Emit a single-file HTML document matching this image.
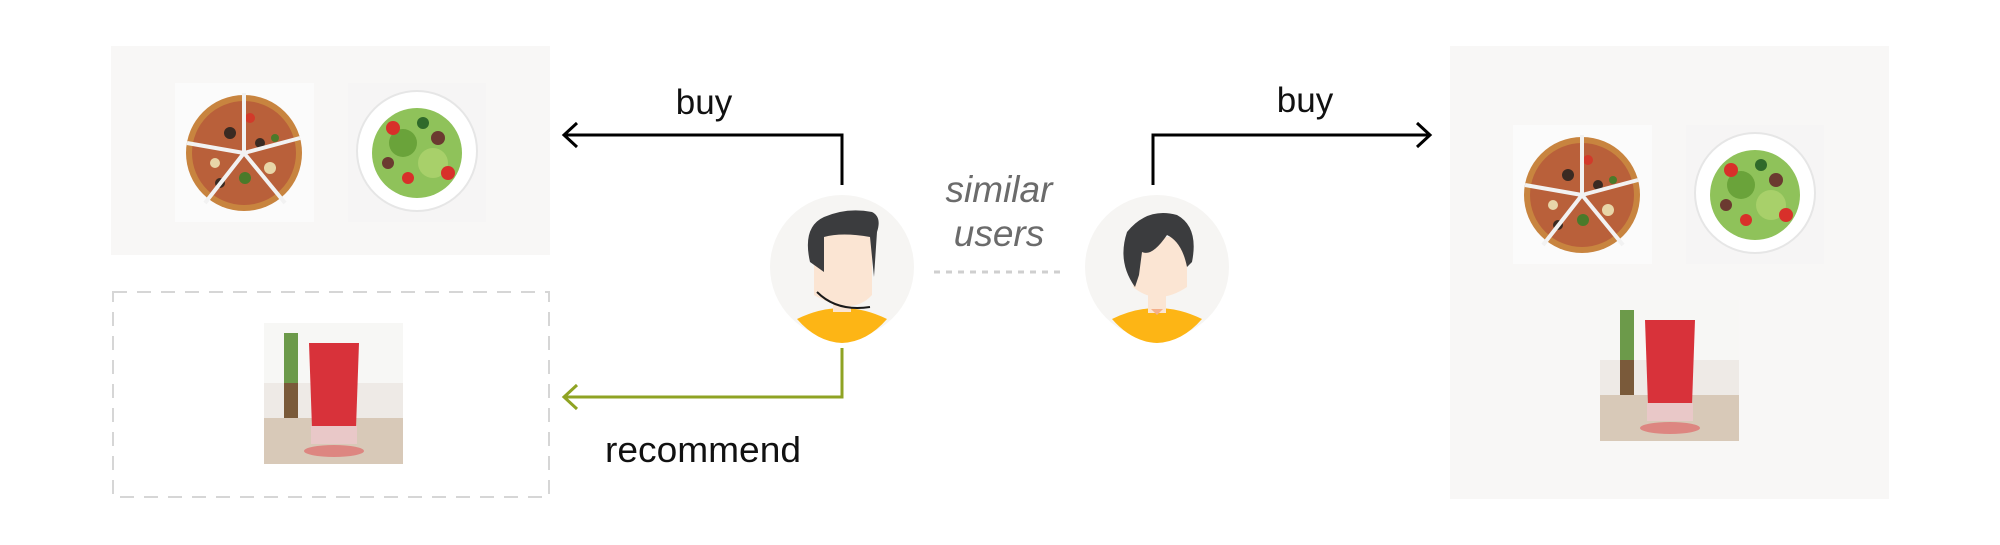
<!DOCTYPE html>
<html><head><meta charset="utf-8"><style>
html,body{margin:0;padding:0;background:#fff;}
svg{display:block;}
text{font-family:"Liberation Sans",sans-serif;}
</style></head><body>
<svg width="2000" height="545" viewBox="0 0 2000 545" xmlns="http://www.w3.org/2000/svg">
<defs>
<g id="pizza">
  <rect x="0" y="0" width="139" height="139" fill="#fbfbfb"/>
  <circle cx="69" cy="70" r="58" fill="#c8843f"/>
  <circle cx="69" cy="70" r="52" fill="#b9603a"/>
  <circle cx="55" cy="50" r="6" fill="#3a2a22"/><circle cx="85" cy="60" r="5" fill="#3a2a22"/>
  <circle cx="70" cy="95" r="6" fill="#4a7a2a"/><circle cx="40" cy="80" r="5" fill="#e8d6a8"/>
  <circle cx="95" cy="85" r="6" fill="#e8d6a8"/><circle cx="75" cy="35" r="5" fill="#d23a2a"/>
  <circle cx="45" cy="100" r="5" fill="#3a2a22"/><circle cx="100" cy="55" r="4" fill="#4a7a2a"/>
  <g stroke="#f2f2f2" stroke-width="4">
    <line x1="69" y1="70" x2="69" y2="10"/><line x1="69" y1="70" x2="125" y2="55"/>
    <line x1="69" y1="70" x2="110" y2="120"/><line x1="69" y1="70" x2="30" y2="120"/>
    <line x1="69" y1="70" x2="12" y2="60"/>
  </g>
</g>
<g id="salad">
  <rect x="0" y="0" width="138" height="139" fill="#f6f5f5"/>
  <circle cx="69" cy="68" r="60" fill="#fff" stroke="#e6e6e6" stroke-width="2"/>
  <circle cx="69" cy="70" r="45" fill="#8fc25a"/>
  <circle cx="55" cy="60" r="14" fill="#6aa33a"/><circle cx="85" cy="80" r="15" fill="#a8d06a"/>
  <circle cx="45" cy="45" r="7" fill="#d8302a"/><circle cx="90" cy="55" r="7" fill="#6b3a30"/>
  <circle cx="60" cy="95" r="6" fill="#d8302a"/><circle cx="100" cy="90" r="7" fill="#d8302a"/>
  <circle cx="75" cy="40" r="6" fill="#2f6a2a"/><circle cx="40" cy="80" r="6" fill="#6b3a30"/>
</g>
<g id="drink">
  <rect x="0" y="0" width="139" height="141" fill="#eeeae6"/>
  <rect x="0" y="0" width="139" height="60" fill="#f7f7f5"/>
  <rect x="20" y="10" width="14" height="70" fill="#6c9a4a"/>
  <rect x="20" y="60" width="14" height="40" fill="#7a5a3a"/>
  <rect x="0" y="95" width="139" height="46" fill="#d8c9b8"/>
  <path d="M45 20 L95 20 L92 105 L48 105 Z" fill="#d8323a"/>
  <rect x="47" y="103" width="46" height="18" fill="#e9c8c8"/>
  <ellipse cx="70" cy="128" rx="30" ry="6" fill="#e06a6a" opacity="0.7"/>
</g>
<g id="man">
  <circle cx="0" cy="0" r="72" fill="#f6f5f3"/>
  <path d="M-45 52 Q0 30 45 52 Q25 75 0 76 Q-25 75 -45 52 Z" fill="#fdb515"/>
  <rect x="-9" y="20" width="18" height="25" fill="#fbe5d3"/>
  <path d="M-28 -38 L30 -38 L30 28 Q10 50 -28 28 Z" fill="#fbe5d3"/>
  <path d="M-32 -5 Q-40 -40 -18 -50 Q5 -60 30 -55 Q40 -50 35 -35 L32 10 L28 -30 Q0 -35 -18 -30 L-18 5 Z" fill="#3b3c3e"/>
  <path d="M-25 25 Q-5 45 28 40" stroke="#1a1a1a" stroke-width="2" fill="none"/>
</g>
<g id="woman">
  <circle cx="0" cy="0" r="72" fill="#f6f5f3"/>
  <path d="M-45 52 Q0 30 45 52 Q25 75 0 76 Q-25 75 -45 52 Z" fill="#fdb515"/>
  <rect x="-9" y="18" width="18" height="28" fill="#fbe5d3"/>
  <path d="M-6 42 L6 42 L0 48 Z" fill="#f4b08a"/>
  <path d="M-24 -30 L30 -30 L30 20 Q0 40 -24 20 Z" fill="#fbe5d3"/>
  <path d="M-22 20 Q-40 -5 -30 -35 Q-10 -60 20 -52 Q42 -40 35 -5 L30 0 Q25 -25 10 -32 Q-5 -10 -15 -15 L-18 8 Z" fill="#3b3c3e"/>
</g>
</defs>

<rect x="111" y="46" width="439" height="209" fill="#f8f7f6"/>
<use href="#pizza" x="175" y="83"/>
<use href="#salad" x="348" y="83"/>

<rect x="113" y="292" width="436" height="205" fill="none" stroke="#d6d6d6" stroke-width="2" stroke-dasharray="14,10"/>
<use href="#drink" x="264" y="323"/>

<rect x="1450" y="46" width="439" height="453" fill="#f8f7f6"/>
<use href="#pizza" x="1513" y="125"/>
<use href="#salad" x="1686" y="125"/>
<use href="#drink" x="1600" y="300"/>

<polyline points="842,185 842,135 565,135" fill="none" stroke="#000" stroke-width="3"/>
<polyline points="577,123 564,135 577,147" fill="none" stroke="#000" stroke-width="3"/>
<text x="704" y="114" font-size="35" text-anchor="middle" fill="#111">buy</text>

<polyline points="842,348 842,397 565,397" fill="none" stroke="#8fa323" stroke-width="3"/>
<polyline points="577,385 564,397 577,409" fill="none" stroke="#8fa323" stroke-width="3"/>
<text x="703" y="462" font-size="36" text-anchor="middle" fill="#111" textLength="196" lengthAdjust="spacingAndGlyphs">recommend</text>

<polyline points="1153,185 1153,135 1429,135" fill="none" stroke="#000" stroke-width="3"/>
<polyline points="1417,123 1430,135 1417,147" fill="none" stroke="#000" stroke-width="3"/>
<text x="1305" y="112" font-size="35" text-anchor="middle" fill="#111">buy</text>

<text x="999" y="202" font-size="37" font-style="italic" text-anchor="middle" fill="#6b6b6b">similar</text>
<text x="999" y="246" font-size="37" font-style="italic" text-anchor="middle" fill="#6b6b6b">users</text>
<line x1="934" y1="272" x2="1064" y2="272" stroke="#cfcfcf" stroke-width="3" stroke-dasharray="6,6"/>

<use href="#man" x="842" y="267"/>
<use href="#woman" x="1157" y="267"/>
</svg>
</body></html>
